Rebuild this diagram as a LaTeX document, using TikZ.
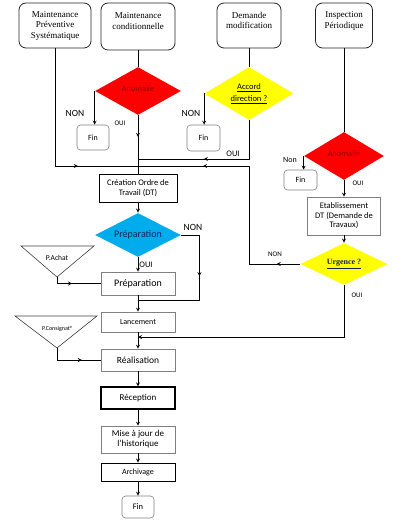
\documentclass[tikz,border=0pt]{standalone}
\usepackage{fontspec}
\setmainfont{Liberation Serif}
\newfontfamily\calibri{Carlito}
\usetikzlibrary{shapes.geometric,decorations.markings}

\definecolor{rougeA}{RGB}{255,0,0}
\definecolor{jauneA}{RGB}{255,255,0}
\definecolor{bleuA}{RGB}{0,172,236}
\definecolor{bordeaux}{RGB}{150,0,0}
\definecolor{marine}{RGB}{20,35,90}
\definecolor{grisA}{RGB}{128,128,128}

\begin{document}
\begin{tikzpicture}[x=1pt,y=-1pt,>=stealth,line width=0.8pt,
  haut/.style={draw=black!85,rounded corners=7pt,align=center,inner sep=0pt,font=\fontsize{9}{10.5}\selectfont},
  finbox/.style={draw=grisA,line width=0.6pt,rounded corners=3.5pt,inner sep=0pt,font=\calibri\fontsize{8}{9}\selectfont},
  boite/.style={draw=grisA,line width=0.6pt,align=center,inner sep=0pt,minimum width=74pt,font=\calibri\fontsize{8.5}{10}\selectfont},
  boiten/.style={boite,draw=black,line width=0.9pt},
  losange/.style={diamond,aspect=2,inner sep=0pt,align=center,font=\calibri\fontsize{8.5}{10}\selectfont},
  etiq/.style={inner sep=0pt,font=\calibri\fontsize{9.5}{10}\selectfont},
  petite/.style={inner sep=0pt,font=\calibri\fontsize{7}{8}\selectfont},
  fl/.style={postaction={decorate,decoration={markings,mark=at position #1 with {\arrow{stealth}}}}}]
\useasboundingbox (0,0) rectangle (410,521);

% sources
\node[haut,minimum width=72pt,minimum height=45pt] (mps) at (55,25.5) {Maintenance\\Préventive\\Systématique};
\node[haut,minimum width=74pt,minimum height=47pt] (mc) at (138,26.5) {Maintenance\\conditionnelle\\\mbox{}};
\node[haut,minimum width=64pt,minimum height=45pt] (dm) at (249,25.5) {Demande\\modification\\\mbox{}};
\node[haut,minimum width=57pt,minimum height=45pt] (ip) at (344,25.5) {Inspection\\Périodique\\\mbox{}};

% tests
\node[losange,fill=rougeA,minimum width=86pt,minimum height=48pt,text=bordeaux] (an1) at (138,91) {\raisebox{5pt}{Anomalie}};
\node[losange,fill=jauneA,minimum width=89pt,minimum height=53pt,font=\calibri\fontsize{8.5}{12}\selectfont] (acc) at (249,93.5) {\underline{Accord}\\\underline{direction ?}};
\node[losange,fill=rougeA,minimum width=80pt,minimum height=48pt,text=bordeaux] (an2) at (344,156) {\raisebox{4pt}{Anomalie}};
\node[losange,fill=bleuA,minimum width=86pt,minimum height=44pt,text=marine,font=\calibri\fontsize{10}{12}\selectfont] (prep) at (138,235) {Préparation};
\node[losange,fill=jauneA,minimum width=87pt,minimum height=42pt,text=marine,font=\fontsize{8}{10}\selectfont\bfseries] (urg) at (344,264) {\underline{Urgence ?}};

% fins
\node[finbox,minimum width=32pt,minimum height=25pt] (fin1) at (93,137.5) {Fin};
\node[finbox,minimum width=33pt,minimum height=26pt] (fin2) at (203.5,138) {Fin};
\node[finbox,minimum width=33pt,minimum height=20pt] (fin3) at (300.5,180) {Fin};

% colonne de droite
\node[boite,minimum width=73pt,minimum height=38pt,font=\calibri\fontsize{8.5}{9.5}\selectfont] (etab) at (344,216) {Etablissement\\DT (Demande de\\Travaux)};

% colonne principale
\node[boiten,minimum width=78pt,minimum height=28pt] (crea) at (138,188) {Création Ordre de\\Travail (DT)};
\node[boite,minimum height=23pt,font=\calibri\fontsize{10}{12}\selectfont] (prepb) at (138,283.5) {Préparation};
\node[boite,minimum height=20pt,font=\calibri\fontsize{8}{10}\selectfont] (lanc) at (138,322) {Lancement};
\node[boite,minimum height=22pt,font=\calibri\fontsize{9.5}{10}\selectfont] (real) at (138,360) {Réalisation};
\node[boiten,minimum height=22pt,line width=1.1pt,font=\calibri\fontsize{9}{10}\selectfont] (recep) at (138,398) {Réception};
\node[boite,minimum height=27pt,font=\calibri\fontsize{9}{10}\selectfont] (maj) at (138,439.5) {Mise à jour de\\l’historique};
\node[boiten,minimum height=18pt,font=\calibri\fontsize{8}{10}\selectfont] (arch) at (138,472) {Archivage};
\node[finbox,minimum width=32pt,minimum height=22pt,font=\calibri\fontsize{8.5}{10}\selectfont] (finb) at (138,507) {Fin};

% procedures
\coordinate (pa) at (57,277);
\draw[line width=0.6pt,black!75] (21,246) -- (94,246) -- (pa) -- cycle;
\node[petite,font=\calibri\fontsize{7.5}{8}\selectfont] (pachat) at (57,258) {P.Achat};
\coordinate (pc) at (57,348);
\draw[line width=0.6pt,black!75] (15,316) -- (97,316) -- (pc) -- cycle;
\node[petite,font=\calibri\fontsize{6}{7}\selectfont] (pcons) at (57,329) {P.Consignat°};

% etiquettes
\node[etiq] (l1) at (75,113) {NON};
\node[petite] (l2) at (120,123) {OUI};
\node[etiq] (l3) at (191,113) {NON};
\node[etiq,font=\calibri\fontsize{8.5}{10}\selectfont] (l4) at (233,154) {OUI};
\node[etiq,font=\calibri\fontsize{8}{10}\selectfont] (l5) at (290,160) {Non};
\node[petite] (l6) at (358,183) {OUI};
\node[etiq] (l7) at (193,227) {NON};
\node[etiq,font=\calibri\fontsize{8.5}{10}\selectfont] (l8) at (146,265) {OUI};
\node[petite] (l9) at (275,254) {NON};
\node[petite] (l10) at (357,295) {OUI};

% liaisons
\coordinate (j1) at (138,159);
\coordinate (j2) at (138,166);
\coordinate (j3) at (138,300);
\coordinate (j4) at (138,337);
\draw (mc) -- (an1);
\draw (dm) -- (acc);
\draw (ip) -- (an2);
\draw[->] (an1.west) -- (an1.west |- fin1.north);
\draw[->] (acc.west) -- (acc.west |- fin2.north);
\draw[->] (an2.west) -- (an2.west |- fin3.north);
\draw[fl=0.37] (an1) -- (crea);
\draw[fl=0.7] (mps) |- (j2);
\draw[fl=0.56] (acc) |- (j1);
\draw[fl=0.09,fl=0.75] (urg) -| (acc.south |- j2) -- (j2);
\draw[->] (an2) -- (etab);
\draw[->] (etab) -- (urg);
\draw[->] (urg) |- (j4);
\draw[->] (crea) -- (prep);
\draw[->] (prep) -- (prepb);
\draw[fl=0.41] (prep.east) -- ++(18,0) |- (j3);
\draw[fl=0.43] (pa) |- (prepb.west);
\draw[fl=0.66] (pc) |- (real.west);
\draw[->] (prepb) -- (lanc);
\draw[->] (lanc) -- (real);
\draw[->] (real) -- (recep);
\draw[->] (recep) -- (maj);
\draw[->] (maj) -- (arch);
\draw[->] (arch) -- (finb);
\end{tikzpicture}
\end{document}
